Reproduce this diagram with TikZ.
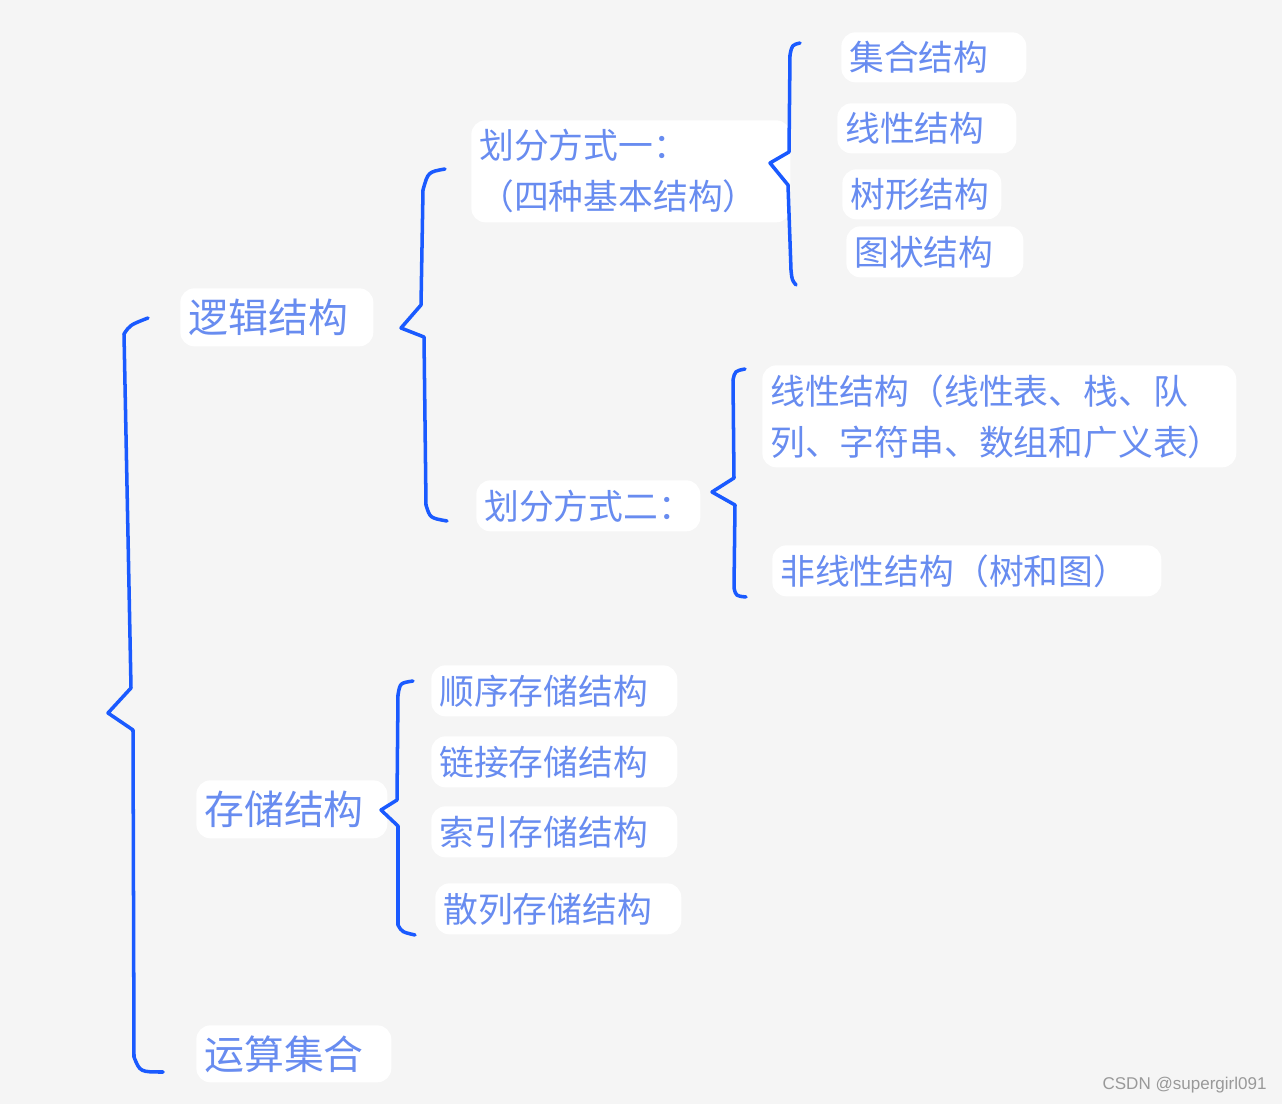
\documentclass[tikz,border=0pt]{standalone}
\usepackage{fontspec}
\setmainfont{Noto Sans CJK SC}
\newfontfamily\markfont{Liberation Sans}
\usepackage{tikz}
\usetikzlibrary{positioning}
\usepackage{xcolor}
\definecolor{pagebg}{RGB}{245,245,245}
\definecolor{labelblue}{RGB}{104,140,240}
\definecolor{braceblue}{RGB}{26,90,255}

\begin{document}
\begin{tikzpicture}[x=0.02cm,y=-0.02cm,
  box/.style={anchor=north west,fill=white,rounded corners=8pt,align=left,
    inner xsep=0.16cm,inner ysep=0pt,text=labelblue,text width=#1,
    font=\fontsize{19.8pt}{29pt}\selectfont},
  bigbox/.style={box=#1,font=\fontsize{22.7pt}{30pt}\selectfont},
  brace/.style={draw=braceblue,line width=2pt,line cap=round,line join=round}]
\fill[pagebg] (0,0) rectangle (1282,1104);
\useasboundingbox (0,0) rectangle (1282,1104);

\node[bigbox=3.54cm,minimum height=1.16cm] (logic) at (180,288) {逻辑结构};
\node[box=6.06cm,minimum height=2.04cm] (way1) at (471,120) {划分方式一：\\（四种基本结构）};
\node[box=3.38cm,minimum height=1.0cm] (set) at (841,32) {集合结构};
\node[box=3.26cm,minimum height=1.0cm] (linear) at (837,103) {线性结构};
\node[box=2.86cm,minimum height=1.0cm] (tree) at (842,169) {树形结构};
\node[box=3.22cm,minimum height=1.02cm] (graph) at (846,226) {图状结构};
\node[box=4.16cm,minimum height=1.02cm] (way2) at (476,480) {划分方式二：};
\node[box=9.16cm,minimum height=2.04cm] (lintwo) at (762,365) {线性结构（线性表、栈、队\\列、字符串、数组和广义表）};
\node[box=7.46cm,minimum height=1.02cm] (nonlin) at (772,545) {非线性结构（树和图）};
\node[bigbox=3.5cm,minimum height=1.16cm] (storage) at (196,780) {存储结构};
\node[box=4.6cm,minimum height=1.02cm] (seq) at (431,665) {顺序存储结构};
\node[box=4.6cm,minimum height=1.02cm] (link) at (431,736) {链接存储结构};
\node[box=4.6cm,minimum height=1.02cm] (index) at (431,806) {索引存储结构};
\node[box=4.6cm,minimum height=1.02cm] (hash) at (435,883) {散列存储结构};
\node[bigbox=3.58cm,minimum height=1.14cm] (ops) at (196,1025) {运算集合};

\draw[brace] (148,318) .. controls (130,325) .. (124,334) -- (131,688) -- (108,713) -- (133,730) -- (134,1057) .. controls (140,1072) .. (163,1072);
\draw[brace] (445,169) .. controls (428,172) .. (423,190) -- (421,305) -- (401,328) -- (424,337) -- (426,505) .. controls (430,518) .. (447,521);
\draw[brace] (800,43) .. controls (792,45) .. (790,55) -- (789,152) -- (770,163) -- (788,185) -- (791,270) .. controls (792,280) .. (796,285);
\draw[brace] (745,369) .. controls (735,371) .. (733,380) -- (734,478) -- (712,492) -- (735,505) -- (734,588) .. controls (736,596) .. (746,597);
\draw[brace] (413,681) .. controls (400,683) .. (398,695) -- (397,800) -- (381,810) -- (398,826) -- (398,925) .. controls (402,932) .. (415,935);

\node[font=\markfont\fontsize{9.7pt}{11pt}\selectfont,text=black!40,anchor=east,inner sep=0pt] (mark) at (1267,1085) {CSDN @supergirl091};
\end{tikzpicture}
\end{document}
